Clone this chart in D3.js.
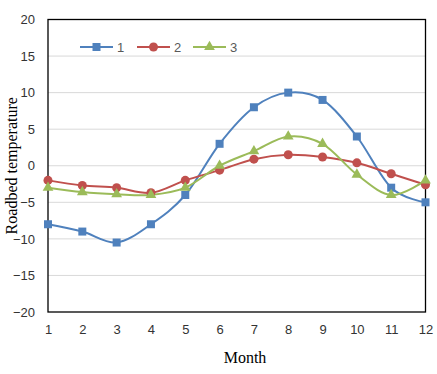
<!DOCTYPE html>
<html>
<head>
<meta charset="utf-8">
<script src="https://cdn.jsdelivr.net/npm/d3@7"></script>
<style>
  body { margin: 0; background: #fff; }
</style>
</head>
<body>
<div id="chart"></div>
<script>
// Data
const months = [1, 2, 3, 4, 5, 6, 7, 8, 9, 10, 11, 12];
const seriesNames = ["1", "2", "3"];
const s1 = [-8, -9, -10.5, -8, -4, 3, 8, 10, 9, 4, -3, -5];
const s2 = [-2, -2.7, -3, -3.7, -2, -0.6, 0.9, 1.5, 1.2, 0.4, -1.1, -2.6];
const s3 = [-3, -3.6, -3.9, -4, -3, 0, 2, 4, 3, -1.2, -4, -2];
const yTicks = [-20, -15, -10, -5, 0, 5, 10, 15, 20];

const colors = ["#4F81BD", "#C0504D", "#9BBB59"];
const shapes = [d3.symbolSquare, d3.symbolCircle, d3.symbolTriangle];
const sizes = [64, 64, 50];

// Dimensions
const W = 437, H = 374;
const plotLeft = 48, plotRight = 425.5, plotTop = 19.5, plotBottom = 312;

const svg = d3.select("#chart").append("svg")
  .attr("width", W).attr("height", H);

const x = d3.scaleLinear().domain([1, 12]).range([plotLeft, plotRight]);
const y = d3.scaleLinear().domain([-20, 20]).range([plotBottom, plotTop]);

// gridlines
svg.append("g")
  .selectAll("line")
  .data(yTicks.filter(d => d > -20 && d < 20)).enter()
  .append("line")
  .attr("x1", plotLeft).attr("x2", plotRight)
  .attr("y1", d => y(d)).attr("y2", d => y(d))
  .attr("stroke", "#D9D9D9").attr("stroke-width", 1);

// Y axis
const yAxis = svg.append("g")
  .attr("transform", "translate(" + plotLeft + ",0)")
  .call(d3.axisLeft(y).tickValues(yTicks).tickSize(0).tickPadding(13));
yAxis.select(".domain").remove();
yAxis.selectAll("text")
  .style("font-family", "'Liberation Sans', Arial, sans-serif")
  .style("font-size", "13px").style("fill", "#333");

// X axis
const xAxis = svg.append("g")
  .attr("transform", "translate(0," + plotBottom + ")")
  .call(d3.axisBottom(x).tickValues(months).tickSize(0).tickPadding(13));
xAxis.select(".domain").remove();
xAxis.selectAll("text")
  .style("font-family", "'Liberation Sans', Arial, sans-serif")
  .style("font-size", "13px").style("fill", "#333");

// frame
svg.append("rect")
  .attr("x", plotLeft).attr("y", plotTop)
  .attr("width", plotRight - plotLeft).attr("height", plotBottom - plotTop)
  .attr("fill", "none").attr("stroke", "#000").attr("stroke-width", 1.3);

// series
const allSeries = [s1, s2, s3];
const line = d3.line()
  .x((d, i) => x(months[i]))
  .y(d => y(d))
  .curve(d3.curveCardinal.tension(0));

allSeries.forEach(function (s, k) {
  svg.append("path")
    .datum(s)
    .attr("d", line)
    .attr("fill", "none")
    .attr("stroke", colors[k])
    .attr("stroke-width", 2);
});

allSeries.forEach(function (s, k) {
  svg.append("g")
    .selectAll("path")
    .data(s).enter()
    .append("path")
    .attr("d", d3.symbol().type(shapes[k]).size(sizes[k]))
    .attr("transform", (d, i) => "translate(" + x(months[i]) + "," + y(d) + ")")
    .attr("fill", colors[k]);
});

// legend
const legX = [80, 137, 193];
const legY = 47;
seriesNames.forEach(function (name, k) {
  const g = svg.append("g");
  g.append("line")
    .attr("x1", legX[k]).attr("x2", legX[k] + 33)
    .attr("y1", legY).attr("y2", legY)
    .attr("stroke", colors[k]).attr("stroke-width", 2);
  g.append("path")
    .attr("d", d3.symbol().type(shapes[k]).size(sizes[k]))
    .attr("transform", "translate(" + (legX[k] + 16.5) + "," + legY + ")")
    .attr("fill", colors[k]);
  g.append("text")
    .attr("x", legX[k] + 37).attr("y", legY + 4.5)
    .style("font-family", "'Liberation Sans', Arial, sans-serif")
    .style("font-size", "13px").style("fill", "#595959")
    .text(name);
});

// axis titles
svg.append("text")
  .attr("x", 245).attr("y", 363)
  .attr("text-anchor", "middle")
  .style("font-family", "'Liberation Serif', 'Times New Roman', serif")
  .style("font-size", "16px").style("fill", "#000")
  .text("Month");

svg.append("text")
  .attr("transform", "translate(17," + ((plotTop + plotBottom) / 2) + ") rotate(-90)")
  .attr("text-anchor", "middle")
  .style("font-family", "'Liberation Serif', 'Times New Roman', serif")
  .style("font-size", "16px").style("fill", "#000")
  .text("Roadbed temperature");
</script>
</body>
</html>
